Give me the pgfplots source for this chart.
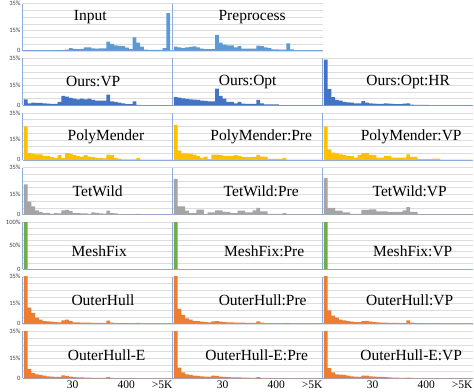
\documentclass[border=0pt]{standalone}
\usepackage{pgfplots}
\pgfplotsset{compat=1.18}
\usepackage{pgfplotstable}
\usepackage{fontspec}
\setmainfont{Liberation Serif}
\newfontfamily\tickfont{Carlito}
\definecolor{inblue}{HTML}{5B9BD5}
\definecolor{oursblue}{HTML}{4472C4}
\definecolor{polygold}{HTML}{FFC000}
\definecolor{tetgray}{HTML}{A5A5A5}
\definecolor{meshgreen}{HTML}{70AD47}
\definecolor{outerorange}{HTML}{ED7D31}
\definecolor{axisc}{HTML}{8FAADC}
\definecolor{gridc}{HTML}{DDDDDD}
\definecolor{tickc}{HTML}{404040}

% Row 1: Input, Preprocess
\pgfplotstableread{
x a b
0 0.2 3.0
1 0.2 2.5
2 0.3 2.0
3 0.3 2.5
4 0.3 2.8
5 0.2 3.2
6 0.3 2.5
7 0.3 1.5
8 0.4 1.2
9 0.4 1.2
10 0.5 1.2
11 0.8 11.7
12 2.0 6.0
13 1.3 4.5
14 1.2 4.0
15 1.3 4.0
16 2.5 2.5
17 2.4 3.5
18 1.7 1.5
19 1.6 1.5
20 1.7 1.5
21 1.8 1.5
22 6.7 3.7
23 5.0 3.5
24 4.0 2.5
25 3.6 2.0
26 3.5 1.0
27 2.2 1.0
28 1.2 0.8
29 10.0 0.8
30 6.0 5.5
31 3.0 1.0
32 0.8 0.3
33 0.7 0.3
34 0.7 0.2
35 0.6 0.2
36 0.7 0.2
37 2.0 0.2
38 28.0 0.2
39 0.0 0.2
}\rowA

% Row 2: Ours:VP, Ours:Opt, Ours:Opt:HR
\pgfplotstableread{
x a b c
0 4.5 6.0 34.0
1 1.5 5.8 12.0
2 2.0 5.2 6.0
3 1.8 4.8 4.0
4 1.8 4.5 3.5
5 1.5 4.2 2.5
6 1.2 4.0 2.2
7 1.0 3.5 2.0
8 1.0 3.3 1.5
9 2.5 3.0 1.5
10 7.0 3.0 3.2
11 6.5 12.4 2.0
12 5.5 7.0 1.5
13 5.0 5.0 1.2
14 4.5 2.5 1.0
15 5.0 2.5 1.0
16 4.5 1.5 1.5
17 5.0 2.5 1.2
18 4.0 1.2 1.0
19 3.5 1.0 0.8
20 3.5 1.0 0.8
21 3.5 1.0 1.2
22 8.0 4.0 1.5
23 3.0 1.5 0.5
24 2.5 0.6 0.3
25 2.0 0.6 0.3
26 1.5 0.6 0.3
27 0.8 0.6 0.3
28 0.8 0.2 0.2
29 3.0 0.2 0.2
30 0.3 0.2 0.2
31 0.2 0.2 0.2
32 0.2 0.2 0.2
33 0.2 0.2 0.2
34 0.2 0.2 0.2
35 0.2 0.2 0.2
36 0.2 0.2 0.2
37 0.2 0.2 0.2
38 0.2 0.2 0.2
39 0.2 0.2 0.2
}\rowB

% Row 3: PolyMender, :Pre, :VP
\pgfplotstableread{
x a b c
0 25.0 26.0 25.0
1 5.0 7.0 7.9
2 4.5 4.9 5.4
3 4.2 4.9 4.8
4 4.2 4.5 4.2
5 3.0 4.0 3.5
6 3.0 3.0 2.9
7 2.0 1.5 2.9
8 1.5 2.5 1.7
9 3.5 0.5 3.5
10 1.5 4.0 5.0
11 5.0 4.0 5.0
12 4.5 3.5 3.5
13 3.5 3.0 3.5
14 3.0 3.0 1.7
15 2.5 3.0 1.7
16 3.5 3.5 3.0
17 2.5 3.0 3.0
18 2.0 2.0 1.7
19 1.5 2.0 1.7
20 1.5 2.0 1.7
21 1.2 2.0 1.7
22 4.0 3.7 4.2
23 3.5 2.5 2.2
24 1.5 2.5 2.2
25 1.0 0.7 0.5
26 0.3 0.7 0.5
27 0.3 0.7 0.5
28 0.3 0.7 0.5
29 0.3 1.5 1.0
30 1.5 0.2 1.0
31 0.2 0.2 0.2
32 0.2 0.2 0.2
33 0.2 0.2 0.2
34 0.2 0.2 0.2
35 0.2 0.2 0.2
36 0.2 0.2 0.2
37 0.2 0.2 0.2
38 0.2 0.2 0.2
39 0.2 0.2 0.2
}\rowC

% Row 4: TetWild, :Pre, :VP
\pgfplotstableread{
x a b c
0 22.5 26.5 27.0
1 9.5 6.0 5.0
2 6.0 6.0 5.0
3 3.0 2.9 2.9
4 2.0 1.1 2.9
5 1.0 1.1 1.6
6 1.2 3.6 1.6
7 0.5 3.6 0.4
8 1.0 0.4 0.4
9 0.8 1.6 0.4
10 3.0 1.6 3.4
11 3.5 3.1 3.4
12 2.5 3.1 3.9
13 1.0 1.9 3.9
14 1.0 1.9 2.4
15 0.8 1.1 2.4
16 0.8 1.1 2.4
17 0.5 2.9 1.9
18 1.5 2.9 1.9
19 1.2 1.6 1.9
20 0.8 1.6 1.9
21 0.6 3.0 3.0
22 2.8 4.9 5.5
23 1.0 2.4 1.9
24 0.8 2.4 1.9
25 0.3 0.5 0.3
26 0.3 0.5 0.3
27 0.3 0.5 0.3
28 0.3 0.5 0.3
29 0.3 1.0 0.2
30 0.5 0.2 0.2
31 0.1 0.2 0.2
32 0.1 0.2 0.2
33 0.1 0.2 0.2
34 0.1 0.2 0.2
35 0.1 0.2 0.2
36 0.1 0.2 0.2
37 0.1 0.2 0.2
38 0.1 0.2 0.2
39 0.1 0.2 0.2
}\rowD

% Row 5: MeshFix, :Pre, :VP
\pgfplotstableread{
x a b c
0 100 100 100
1 0 0 0
}\rowE

% Row 6: OuterHull, :Pre, :VP
\pgfplotstableread{
x a b c
0 45.0 45.0 45.0
1 12.0 11.0 10.0
2 8.0 6.5 6.0
3 4.5 4.0 4.5
4 3.0 3.0 3.0
5 2.0 2.2 2.5
6 1.8 2.0 2.0
7 1.5 1.5 1.5
8 1.2 1.2 1.2
9 1.0 1.0 1.2
10 2.5 1.8 2.0
11 3.0 2.0 2.2
12 2.0 1.5 1.5
13 1.0 1.2 1.2
14 1.0 1.0 1.0
15 0.8 1.0 0.8
16 0.8 0.8 0.8
17 0.8 0.8 0.7
18 0.7 0.8 0.7
19 0.6 0.6 0.6
20 0.6 0.6 0.5
21 0.5 0.6 0.5
22 2.3 1.8 2.5
23 0.8 0.8 0.8
24 0.5 0.5 0.5
25 0.4 0.3 0.2
26 0.4 0.3 0.2
27 0.4 0.3 0.2
28 0.3 0.3 0.2
29 0.3 0.4 0.2
30 0.6 0.5 0.2
31 0.1 0.1 0.1
32 0.1 0.1 0.1
33 0.1 0.1 0.1
34 0.1 0.1 0.1
35 0.1 0.1 0.1
36 0.1 0.1 0.1
37 0.1 0.1 0.1
38 0.1 0.1 0.1
39 0.1 0.1 0.1
}\rowF

% Row 7: OuterHull-E, :Pre, :VP
\pgfplotstableread{
x a b c
0 45.0 45.0 45.0
1 7.0 8.0 7.5
2 4.0 4.5 4.5
3 3.0 3.0 3.0
4 2.5 2.5 2.8
5 2.0 2.0 2.5
6 1.5 1.8 2.0
7 1.2 1.5 1.5
8 1.0 1.2 1.2
9 1.0 1.2 1.0
10 2.2 2.0 2.0
11 1.8 1.8 2.0
12 1.2 1.3 1.5
13 0.8 1.0 1.2
14 0.7 0.8 1.0
15 0.6 0.7 1.0
16 0.5 0.6 0.8
17 0.5 0.6 0.6
18 0.4 0.5 0.5
19 0.4 0.5 0.5
20 0.3 0.4 0.4
21 0.3 0.4 0.3
22 0.8 0.8 0.5
23 0.3 0.4 0.3
24 0.1 0.3 0.1
25 0.1 0.1 0.1
26 0.1 0.1 0.1
27 0.1 0.1 0.1
28 0.1 0.1 0.1
29 0.1 0.1 0.1
30 0.1 0.1 0.1
31 0.1 0.1 0.1
32 0.1 0.1 0.1
33 0.1 0.1 0.1
34 0.1 0.1 0.1
35 0.1 0.1 0.1
36 0.1 0.1 0.1
37 0.1 0.1 0.1
38 0.1 0.1 0.1
39 0.1 0.1 0.1
}\rowG

\pgfplotsset{
  panel/.style={
    scale only axis, width=150pt, height=47pt,
    xmin=-0.8, xmax=39.2, ymin=0, ymax=35,
    axis lines*=left, axis line style={-, draw=axisc, line width=0.7pt},
    ytick={0,5,...,35}, yticklabels={},
    ymajorgrids, grid style={draw=gridc, line width=0.4pt},
    xtick=\empty, major tick length=0pt,
    yticklabel style={font=\tickfont\fontsize{6.5}{7}\selectfont, text=tickc, inner sep=1pt, xshift=-1pt},
    xticklabel style={font=\fontsize{11.5}{12}\selectfont, text=black, inner sep=0pt, yshift=-2.5pt},
  },
  lab/.style={yticklabels={0,,,15\%,,,,35\%}},
  mesh/.style={ymax=100, ytick={0,12.5,...,100}},
  meshlab/.style={yticklabels={0,,,,50\%,,,,100\%}},
  lastrow/.style={xtick={12.5,26.8,36.4}, xticklabels={30,400,\textgreater5K}},
  hbar/.style={ybar, bar width=1, bar shift=0pt, draw=none},
}
\tikzset{ttl/.style={font=\fontsize{15.5}{16}\selectfont, inner sep=0pt, anchor=center}}

\begin{document}
\begin{tikzpicture}
\path[use as bounding box] (0pt,0pt) rectangle (474pt,-391pt);

% ---- Row 1
\begin{axis}[panel, lab, at={(22.7pt,-50.7pt)}]
\addplot[hbar, fill=inblue] table[x=x,y=a]{\rowA};
\node[ttl] at (rel axis cs:0.45,0.72) {Input};
\end{axis}
\begin{axis}[panel, at={(172.7pt,-50.7pt)}]
\addplot[hbar, fill=inblue] table[x=x,y=b]{\rowA};
\node[ttl] at (rel axis cs:0.53,0.72) {Preprocess};
\end{axis}

% ---- Row 2
\begin{axis}[panel, lab, at={(22.7pt,-105.3pt)}]
\addplot[hbar, fill=oursblue] table[x=x,y=a]{\rowB};
\node[ttl] at (rel axis cs:0.47,0.5) {Ours:VP};
\end{axis}
\begin{axis}[panel, at={(172.7pt,-105.3pt)}]
\addplot[hbar, fill=oursblue] table[x=x,y=b]{\rowB};
\node[ttl] at (rel axis cs:0.50,0.5) {Ours:Opt};
\end{axis}
\begin{axis}[panel, at={(322.7pt,-105.3pt)}]
\addplot[hbar, fill=oursblue] table[x=x,y=c]{\rowB};
\node[ttl] at (rel axis cs:0.57,0.5) {Ours:Opt:HR};
\end{axis}

% ---- Row 3
\begin{axis}[panel, lab, at={(22.7pt,-159.9pt)}]
\addplot[hbar, fill=polygold] table[x=x,y=a]{\rowC};
\node[ttl] at (rel axis cs:0.555,0.5) {PolyMender};
\end{axis}
\begin{axis}[panel, at={(172.7pt,-159.9pt)}]
\addplot[hbar, fill=polygold] table[x=x,y=b]{\rowC};
\node[ttl] at (rel axis cs:0.59,0.5) {PolyMender:Pre};
\end{axis}
\begin{axis}[panel, at={(322.7pt,-159.9pt)}]
\addplot[hbar, fill=polygold] table[x=x,y=c]{\rowC};
\node[ttl] at (rel axis cs:0.59,0.5) {PolyMender:VP};
\end{axis}

% ---- Row 4
\begin{axis}[panel, lab, at={(22.7pt,-214.5pt)}]
\addplot[hbar, fill=tetgray] table[x=x,y=a]{\rowD};
\node[ttl] at (rel axis cs:0.50,0.5) {TetWild};
\end{axis}
\begin{axis}[panel, at={(172.7pt,-214.5pt)}]
\addplot[hbar, fill=tetgray] table[x=x,y=b]{\rowD};
\node[ttl] at (rel axis cs:0.59,0.5) {TetWild:Pre};
\end{axis}
\begin{axis}[panel, at={(322.7pt,-214.5pt)}]
\addplot[hbar, fill=tetgray] table[x=x,y=c]{\rowD};
\node[ttl] at (rel axis cs:0.58,0.5) {TetWild:VP};
\end{axis}

% ---- Row 5
\begin{axis}[panel, mesh, meshlab, at={(22.7pt,-269.1pt)}]
\addplot[hbar, fill=meshgreen] table[x=x,y=a]{\rowE};
\node[ttl] at (rel axis cs:0.51,0.38) {MeshFix};
\end{axis}
\begin{axis}[panel, mesh, at={(172.7pt,-269.1pt)}]
\addplot[hbar, fill=meshgreen] table[x=x,y=b]{\rowE};
\node[ttl] at (rel axis cs:0.61,0.38) {MeshFix:Pre};
\end{axis}
\begin{axis}[panel, mesh, at={(322.7pt,-269.1pt)}]
\addplot[hbar, fill=meshgreen] table[x=x,y=c]{\rowE};
\node[ttl] at (rel axis cs:0.60,0.38) {MeshFix:VP};
\end{axis}

% ---- Row 6
\begin{axis}[panel, lab, at={(22.7pt,-323.7pt)}]
\addplot[hbar, fill=outerorange] table[x=x,y=a]{\rowF};
\node[ttl] at (rel axis cs:0.535,0.5) {OuterHull};
\end{axis}
\begin{axis}[panel, at={(172.7pt,-323.7pt)}]
\addplot[hbar, fill=outerorange] table[x=x,y=b]{\rowF};
\node[ttl] at (rel axis cs:0.60,0.5) {OuterHull:Pre};
\end{axis}
\begin{axis}[panel, at={(322.7pt,-323.7pt)}]
\addplot[hbar, fill=outerorange] table[x=x,y=c]{\rowF};
\node[ttl] at (rel axis cs:0.58,0.5) {OuterHull:VP};
\end{axis}

% ---- Row 7
\begin{axis}[panel, lab, lastrow, at={(22.7pt,-378.3pt)}]
\addplot[hbar, fill=outerorange] table[x=x,y=a]{\rowG};
\node[ttl] at (rel axis cs:0.56,0.5) {OuterHull-E};
\end{axis}
\begin{axis}[panel, lastrow, at={(172.7pt,-378.3pt)}]
\addplot[hbar, fill=outerorange] table[x=x,y=b]{\rowG};
\node[ttl] at (rel axis cs:0.56,0.5) {OuterHull-E:Pre};
\end{axis}
\begin{axis}[panel, lastrow, at={(322.7pt,-378.3pt)}]
\addplot[hbar, fill=outerorange] table[x=x,y=c]{\rowG};
\node[ttl] at (rel axis cs:0.59,0.5) {OuterHull-E:VP};
\end{axis}
\end{tikzpicture}
\end{document}
